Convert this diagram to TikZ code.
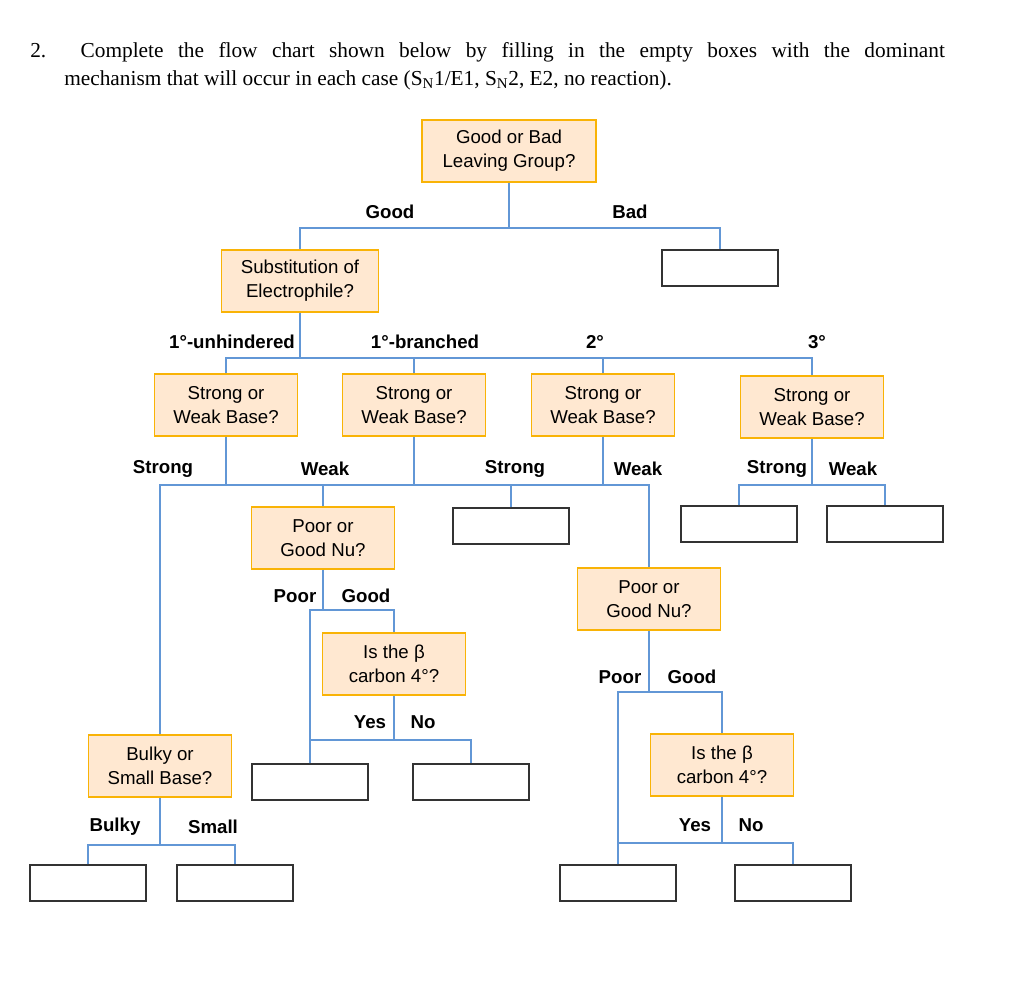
\documentclass[tikz,border=0pt]{standalone}
\usepackage{fontspec}
\setmainfont{Liberation Sans}
\newfontfamily\hdr{Liberation Serif}
\begin{document}
\begin{tikzpicture}[x=0.75pt,y=-0.75pt,
 q/.style={draw=orange!55!yellow!90!brown, fill=orange!18, line width=0.9pt, align=center, font=\fontsize{14}{18}\selectfont, minimum width=107pt, minimum height=46.5pt, inner sep=1pt},
 e/.style={draw=black!80, line width=0.9pt, minimum width=87pt, minimum height=27pt, inner sep=0pt},
 ln/.style={draw=blue!45!cyan!70!black!80, line width=2.2pt, color={rgb,255:red,98;green,151;blue,214}},
 lb/.style={font=\bfseries\fontsize{14}{16}\selectfont}]
\useasboundingbox (0,0) rectangle (1024,988);
\node[anchor=west,font=\hdr\fontsize{16}{19}\selectfont,inner sep=0] (h1) at (30,52) {\makebox[686pt][s]{2. Complete the flow chart shown below by filling in the empty boxes with the dominant}};
\node[anchor=west,font=\hdr\fontsize{16}{19}\selectfont,inner sep=0] (h2) at (64,80) {mechanism that will occur in each case (S\textsubscript{N}1/E1, S\textsubscript{N}2, E2, no reaction).};
% question boxes
\node[q,minimum width=130.5pt] (lg) at (509,151) {Good or Bad\\Leaving Group?};
\node[q,minimum width=118pt] (sub) at (300,281) {Substitution of\\Electrophile?};
\node[q] (sw1) at (226,405) {Strong or\\Weak Base?};
\node[q] (sw2) at (414,405) {Strong or\\Weak Base?};
\node[q] (sw3) at (603,405) {Strong or\\Weak Base?};
\node[q] (sw4) at (812,407) {Strong or\\Weak Base?};
\node[q] (nu1) at (323,538) {Poor or\\Good Nu?};
\node[q] (nu2) at (649,599) {Poor or\\Good Nu?};
\node[q] (b1) at (394,664) {Is the β\\carbon 4°?};
\node[q] (b2) at (722,765) {Is the β\\carbon 4°?};
\node[q] (bk) at (160,766) {Bulky or\\Small Base?};
% empty boxes
\node[e] (ebad) at (720,268) {};
\node[e] (es2) at (511,526) {};
\node[e] (e3s) at (739,524) {};
\node[e] (e3w) at (885,524) {};
\node[e] (ep1) at (310,782) {};
\node[e] (en1) at (471,782) {};
\node[e] (ebu) at (88,883) {};
\node[e] (esm) at (235,883) {};
\node[e] (ey2) at (618,883) {};
\node[e] (en2) at (793,883) {};
% junction coordinates
\coordinate (j1) at (509,228);
\coordinate (j2) at (300,358);
\coordinate (j3) at (414,485);
\coordinate (j4) at (812,485);
\coordinate (j5) at (323,610);
\coordinate (j6) at (409,740);
\coordinate (j7) at (160,845);
\coordinate (j8) at (649,692);
\coordinate (j9) at (722,843);
% connectors
\draw[ln] (lg.south) -- (j1);
\draw[ln] (sub.north) |- (j1) -| (ebad.north);
\draw[ln] (sub.south) -- (j2);
\draw[ln] (sw1.north) |- (j2) -| (sw4.north);
\draw[ln] (sw2.north) -- (sw2.north |- j2);
\draw[ln] (sw3.north) -- (sw3.north |- j2);
\draw[ln] (sw1.south) -- (sw1.south |- j3);
\draw[ln] (sw2.south) -- (j3);
\draw[ln] (sw3.south) -- (sw3.south |- j3);
\draw[ln] (bk.north) |- (j3) -| (nu2.north);
\draw[ln] (nu1.north) -- (nu1.north |- j3);
\draw[ln] (es2.north) -- (es2.north |- j3);
\draw[ln] (sw4.south) -- (j4);
\draw[ln] (e3s.north) |- (j4) -| (e3w.north);
\draw[ln] (nu1.south) -- (j5);
\draw[ln] (ep1.north) |- (j5) -| (b1.north);
\draw[ln] (b1.south) -- (b1.south |- j6);
\draw[ln] (ep1.north |- j6) -| (en1.north);
\draw[ln] (bk.south) -- (j7);
\draw[ln] (ebu.north) |- (j7) -| (esm.north);
\draw[ln] (nu2.south) -- (j8);
\draw[ln] (ey2.north) |- (j8) -| (b2.north);
\draw[ln] (b2.south) -- (j9);
\draw[ln] (ey2.north |- j9) -| (en2.north);
% labels
\node[lb] (lgood) at (390,212) {Good};
\node[lb] (lbad) at (630,212) {Bad};
\node[lb] (l1u) at (232,342) {1°-unhindered};
\node[lb] (l1b) at (425,342) {1°-branched};
\node[lb] (l2) at (595,342) {2°};
\node[lb] (l3) at (817,342) {3°};
\node[lb] (ls1) at (163,469) {Strong};
\node[lb] (lw1) at (325,469) {Weak};
\node[lb] (ls2) at (515,469) {Strong};
\node[lb] (lw2) at (638,469) {Weak};
\node[lb] (ls3) at (777,469) {Strong};
\node[lb] (lw3) at (853,469) {Weak};
\node[lb] (lp1) at (295,596) {Poor};
\node[lb] (lg1) at (366,596) {Good};
\node[lb] (ly1) at (370,722) {Yes};
\node[lb] (ln1) at (423,722) {No};
\node[lb] (lbu) at (115,827) {Bulky};
\node[lb] (lsm) at (213,827) {Small};
\node[lb] (lp2) at (620,677) {Poor};
\node[lb] (lg2) at (692,677) {Good};
\node[lb] (ly2) at (695,825) {Yes};
\node[lb] (ln2) at (751,825) {No};
\end{tikzpicture}
\end{document}
